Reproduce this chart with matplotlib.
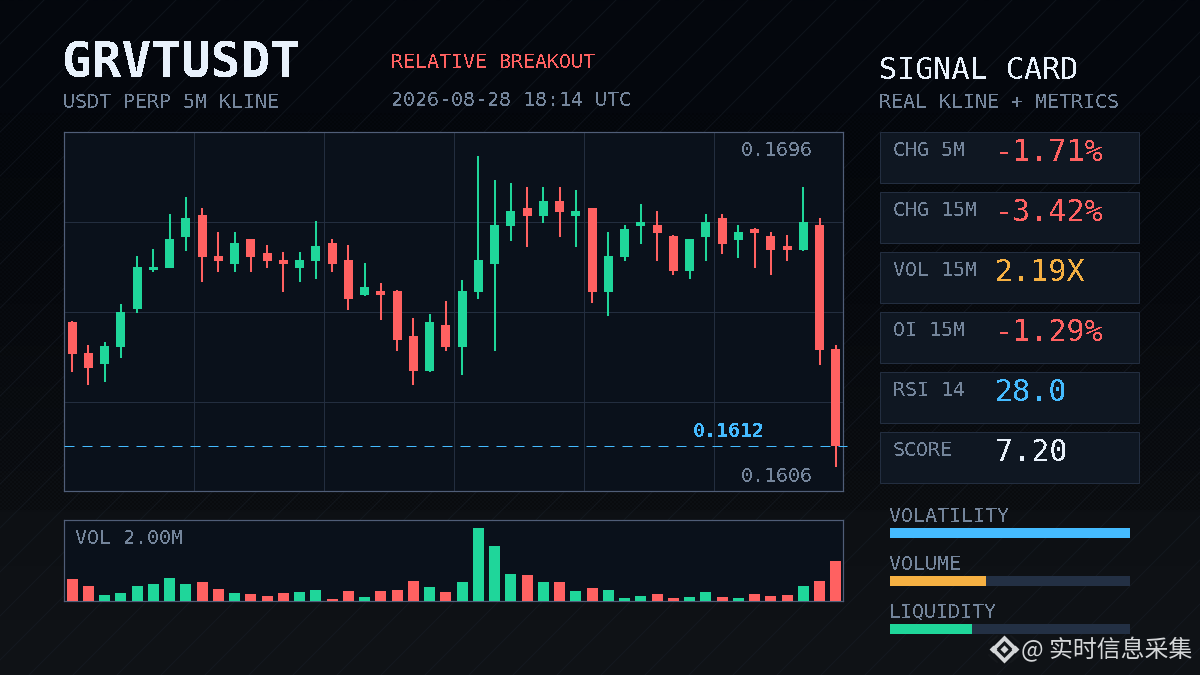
import numpy as np
import matplotlib
matplotlib.use("Agg")
import matplotlib.pyplot as plt
from matplotlib.colors import LinearSegmentedColormap
from matplotlib.patches import Rectangle

plt.rcParams['font.family'] = ['DejaVu Sans Mono']
plt.rcParams['text.antialiased'] = False

opens = [0.164796,0.163899,0.163581,0.164073,0.165173,0.166301,0.166359,0.167256,0.167893,0.166707,0.166475,0.167199,
         0.166793,0.166591,0.166359,0.166562,0.167083,0.166591,0.165578,0.165694,0.165694,0.164391,0.163378,0.164710,
         0.164073,0.165665,0.166475,0.167575,0.168096,0.167864,0.168298,0.167864,0.168096,0.165665,0.166678,0.167575,
         0.167604,0.167285,0.166272,0.167256,0.167806,0.167170,0.167488,0.167285,0.166996,0.166880,0.167604,0.164015]
highs = [0.164825,0.164131,0.164218,0.165317,0.166707,0.166909,0.167922,0.168414,0.168096,0.167401,0.167401,0.167199,
         0.167025,0.166822,0.166822,0.167720,0.167199,0.167025,0.166504,0.165925,0.165723,0.164912,0.165028,0.165404,
         0.166012,0.169600,0.168906,0.168819,0.168703,0.168703,0.168703,0.168617,0.168096,0.167401,0.167604,0.168211,
         0.168009,0.167314,0.167199,0.167922,0.167922,0.167604,0.167517,0.167401,0.167314,0.168703,0.167806,0.164131]
lows = [0.163349,0.162973,0.163060,0.163755,0.165057,0.166243,0.166359,0.166851,0.165954,0.166243,0.166243,0.166243,
        0.166359,0.165665,0.165954,0.166041,0.166243,0.165144,0.165549,0.164854,0.163957,0.162973,0.163349,0.163957,
        0.163263,0.165462,0.163957,0.167141,0.166967,0.167662,0.167256,0.166967,0.165346,0.164970,0.166562,0.167054,
        0.166562,0.166157,0.166041,0.166562,0.166764,0.166649,0.166359,0.166157,0.166562,0.166851,0.163552,0.160600]
closes = [0.163870,0.163465,0.164102,0.165086,0.166388,0.166388,0.167199,0.167806,0.166678,0.166562,0.167083,0.166678,
          0.166562,0.166475,0.166591,0.166996,0.166475,0.165462,0.165809,0.165578,0.164275,0.163378,0.164796,0.164073,
          0.165694,0.166591,0.167604,0.168009,0.167864,0.168298,0.167980,0.168009,0.165665,0.166707,0.167488,0.167691,
          0.167372,0.166272,0.167199,0.167691,0.167054,0.167401,0.167372,0.166880,0.166880,0.167691,0.163986,0.161200]
volumes = [0.603,0.411,0.164,0.219,0.411,0.466,0.630,0.466,0.521,0.329,0.219,0.192,
           0.137,0.219,0.247,0.301,0.055,0.274,0.110,0.274,0.301,0.548,0.384,0.247,
           0.521,2.000,1.507,0.740,0.712,0.521,0.521,0.274,0.356,0.301,0.082,0.137,
           0.192,0.082,0.110,0.247,0.110,0.082,0.192,0.137,0.164,0.411,0.548,1.096]
last_price = 0.1612
price_labels = ["0.1696", "0.1606"]
last_label = "0.1612"
vol_label = "VOL 2.00M"
metric_names = ["CHG 5M", "CHG 15M", "VOL 15M", "OI 15M", "RSI 14", "SCORE"]
metric_values = ["-1.71%", "-3.42%", "2.19X", "-1.29%", "28.0", "7.20"]
bar_names = ["VOLATILITY", "VOLUME", "LIQUIDITY"]
bar_values = [1.00, 0.40, 0.34]

GREEN = '#1fd69a'; RED = '#ff6161'; BLUE = '#45bbff'; ORANGE = '#f5b042'
GREY = '#74859b'; WHITE = '#e8f1fb'; PANEL = '#0a111b'; EDGE = '#505e78'
GRID = '#232e3f'; CARD = '#0f1722'; CARD_EDGE = '#232e40'; TRACK = '#233044'
metric_colors = [RED, RED, ORANGE, RED, BLUE, WHITE]
bar_colors = [BLUE, ORANGE, GREEN]

W, H = 1200, 675
fig = plt.figure(figsize=(W/100, H/100), dpi=100)
px = 0.72

def axes_px(x0, y0, x1, y1, z):
    return fig.add_axes([x0/W, 1-y1/H, (x1-x0)/W, (y1-y0)/H], zorder=z)

# background
bg = axes_px(0, 0, W, H, 0)
bg.set_xlim(0, W); bg.set_ylim(H, 0); bg.axis('off')
cmap = LinearSegmentedColormap.from_list('bgm', [(0, '#04070d'), (0.17, '#05080e'), (0.45, '#080b10'),
                                                 (0.76, '#0d1014'), (1, '#101317')])
bg.imshow(np.linspace(0, 1, 256)[:, None], cmap=cmap, aspect='auto', extent=(0, W, H, 0), zorder=0,
          interpolation='bilinear')
# fine dotted texture in the middle band
yy, xx = np.mgrid[0:397, 0:W]
tex = np.zeros((397, W, 4))
tex[..., 3] = ((xx // 2 + yy // 2) % 2 == 0) * 0.22
bg.imshow(tex, aspect='auto', extent=(0, W, 510, 113), zorder=0.5, interpolation='nearest')
for c in np.arange(44, W + H, 44):
    bg.plot([0, c], [c, 0], color='#1b222d', lw=px, alpha=0.45, zorder=1)
bg.set_xlim(0, W); bg.set_ylim(H, 0)

# cards and progress bars
card_tops = [132, 192, 252, 312, 372, 432]
for t in card_tops:
    bg.add_patch(Rectangle((880, t), 259, 51, fc=CARD, ec=CARD_EDGE, lw=px, zorder=3))
bar_tops = [528, 576, 624]
for t, v, c in zip(bar_tops, bar_values, bar_colors):
    bg.add_patch(Rectangle((890, t), 240, 10, fc=TRACK, ec='none', zorder=3))
    bg.add_patch(Rectangle((890, t), 240 * v, 10, fc=c, ec='none', zorder=4))

# price panel
L, R = 64, 843
T, B = 132, 491
x = np.arange(len(opens))
xlim = ((L - 72.1) / 16.25, (R - 72.1) / 16.25)
colors = [GREEN if c >= o else RED for o, c in zip(opens, closes)]
ax = axes_px(L, T, R, B, 2)
ax.set_facecolor(PANEL)
ax.set_xlim(*xlim)
ax.set_ylim(0.1606 + (467 - B) * 2.894e-5, 0.1606 + (467 - T) * 2.894e-5)
ax.set_xticks([]); ax.set_yticks([])
for s in ax.spines.values():
    s.set_color(EDGE); s.set_linewidth(px * 1.2)
for gx in [194, 324, 454, 584, 714]:
    f = (gx - L) / (R - L)
    ax.plot([f, f], [0, 1], transform=ax.transAxes, color=GRID, lw=px, zorder=1)
for gy in [222, 312, 402]:
    f = (B - gy) / (B - T)
    ax.plot([0, 1], [f, f], transform=ax.transAxes, color=GRID, lw=px, zorder=1)
ax.vlines(x, lows, highs, colors=colors, lw=1.45, zorder=3)
ax.bar(x, np.abs(np.array(closes) - np.array(opens)), bottom=np.minimum(opens, closes),
       width=0.554, color=colors, zorder=4)
ax.plot([xlim[0], xlim[1] + 0.27], [last_price, last_price], color=BLUE, lw=px, linestyle=(0, (10, 8)),
        zorder=5, clip_on=False)

def label(s, xp, yp, size_px, color, weight='normal', ha='left'):
    fig.text(xp/W, 1 - yp/H, s, fontsize=size_px * px, color=color, fontweight=weight,
             va='baseline', ha=ha, zorder=10)

label(price_labels[0], 741, 156, 20, GREY)
label(price_labels[1], 741, 482, 20, GREY)
label(last_label, 693, 437, 20, BLUE, 'bold')

# volume panel
av = axes_px(L, 520, R, 601, 2)
av.set_facecolor(PANEL)
av.set_xlim(*xlim); av.set_ylim(0, 2.0 * 81 / 73)
av.set_xticks([]); av.set_yticks([])
for s in av.spines.values():
    s.set_color(EDGE); s.set_linewidth(px * 1.2)
av.bar(x, volumes, width=0.677, color=colors, zorder=3)
label(vol_label, 75, 544, 20, GREY)

# headers
label("GRVTUSDT", 62, 77, 49.4, WHITE, 'bold')
label("USDT PERP 5M KLINE", 63, 108, 20, GREY)
label("RELATIVE BREAKOUT", 391, 68, 20, RED)
label("2026-08-28 18:14 UTC", 391, 106, 20, GREY)
label("SIGNAL CARD", 879, 79, 30, WHITE)
label("REAL KLINE + METRICS", 879, 108, 20, GREY)

for t, n, v, c in zip(card_tops, metric_names, metric_values, metric_colors):
    label(n, 893, t + 24, 20, GREY)
    label(v, 995, t + 29, 30, c)

for t, n in zip(bar_tops, bar_names):
    label(n, 889, t - 6, 20, GREY)

# watermark
LOGO = '#d4d6d8'; DARK = '#15181c'
bg.scatter([1004], [649], marker='D', s=203, color=LOGO, lw=0, zorder=6)
bg.scatter([1004], [649], marker='D', s=75, color=DARK, lw=0, zorder=7)
bg.scatter([1004], [649], marker='D', s=17, color=LOGO, lw=0, zorder=8)
bg.scatter([993, 1015], [649, 649], marker='D', s=16, color=LOGO, lw=0, zorder=8)
bg.plot([989, 997], [643, 636], color=DARK, lw=1.4, zorder=7)
bg.plot([1011, 1019], [636, 643], color=DARK, lw=1.4, zorder=7)
bg.plot([989, 997], [655, 662], color=DARK, lw=1.4, zorder=7)
bg.plot([1011, 1019], [662, 655], color=DARK, lw=1.4, zorder=7)
bg.set_xlim(0, W); bg.set_ylim(H, 0)
wm = fig.text(1021/W, 1 - 657/H, "@ 实时信息采集", fontsize=17.2, color=LOGO,
              family=['Noto Sans CJK SC', 'DejaVu Sans'], va='baseline', ha='left', zorder=11)
wm.set_antialiased(True)

fig.savefig('out.png', dpi=100, facecolor='#05080e')
